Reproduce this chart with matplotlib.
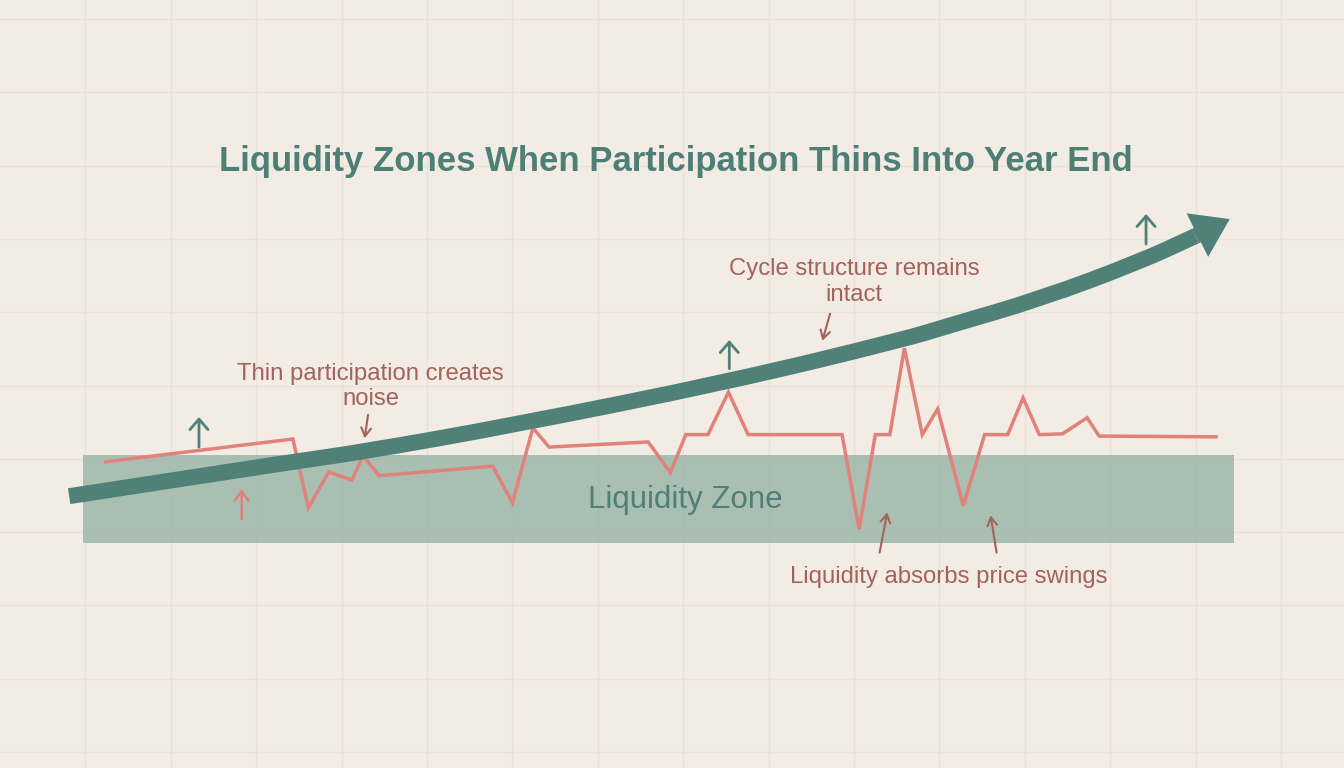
import matplotlib
matplotlib.use("Agg")
import matplotlib.pyplot as plt
from matplotlib.patches import Rectangle, FancyArrowPatch, ArrowStyle, PathPatch
from matplotlib.path import Path

plt.rcParams['font.family'] = ['Liberation Sans', 'DejaVu Sans']

# all values are in grid units: x counts columns from the left edge,
# y counts rows up from the lowest gridline

#%% price path (thin, noisy)
price_x = [1.24, 3.43, 3.61, 3.85, 4.12, 4.25, 4.44, 5.77, 6.00, 6.24,
           6.43, 7.59, 7.85, 8.03, 8.29, 8.53, 8.76, 9.86, 10.06, 10.25,
           10.42, 10.59, 10.80, 10.98, 11.28, 11.53, 11.80, 11.98, 12.17, 12.44,
           12.73, 12.87, 14.24]
price_y = [3.96, 4.27, 3.33, 3.82, 3.71, 4.04, 3.77, 3.90, 3.40, 4.42,
           4.16, 4.23, 3.81, 4.33, 4.33, 4.91, 4.33, 4.33, 3.04, 4.33,
           4.33, 5.51, 4.33, 4.68, 3.36, 4.33, 4.33, 4.83, 4.33, 4.34,
           4.56, 4.31, 4.30]

#%% cycle trend arrow (centre line + tip)
trend_x = [0.81, 3.43, 4.22, 5.97, 8.53, 10.59, 11.12, 12.18, 13.35, 14.00]
trend_y = [3.49, 3.96, 4.09, 4.45, 5.05, 5.63, 5.82, 6.18, 6.69, 7.04]
trend_tip = (14.40, 7.27)

#%% liquidity zone band
zone_x = (0.97, 14.45)
zone_y = (2.85, 4.05)

#%% small arrows (x0, y0, x1, y1)
up_teal = [(2.33, 4.16, 2.33, 4.57),
           (8.54, 5.23, 8.54, 5.62),
           (13.42, 6.93, 13.42, 7.34)]
up_salmon = [(2.83, 3.18, 2.83, 3.59)]
pointers = [(4.31, 4.60, 4.27, 4.28),
            (9.72, 5.98, 9.63, 5.61),
            (10.30, 2.72, 10.39, 3.27),
            (11.67, 2.72, 11.60, 3.23)]

title = "Liquidity Zones When Participation Thins Into Year End"
# (text, x centre, baseline of the last line)
notes = [("Thin participation creates\nnoise", 4.34, 4.73),
         ("Cycle structure remains\nintact", 10.00, 6.15),
         ("Liquidity absorbs price swings", 11.11, 2.31)]

bg = '#F2ECE4'
teal = '#4F8179'
salmon = '#E0827A'
brown = '#A3625A'

fig = plt.figure(figsize=(13.44, 7.68), dpi=100)
fig.patch.set_facecolor(bg)
ax = fig.add_axes([0, 0, 1, 1])
ax.set_facecolor(bg)
ax.set_xlim(0, 15.738)
ax.set_ylim(-0.218, 10.259)
ax.axis('off')

for gx in range(1, 16):
    ax.axvline(gx, color='#EAE2D8', lw=1.0, zorder=0)
for gy in range(0, 11):
    ax.axhline(gy, color='#EAE2D8', lw=1.0, zorder=0)

ax.add_patch(Rectangle((zone_x[0], zone_y[0]), zone_x[1] - zone_x[0], zone_y[1] - zone_y[0],
                       facecolor='#9CB7AA', alpha=0.85, edgecolor='none', zorder=1))
ax.text(8.02, 3.33, 'Liquidity Zone', ha='center', va='baseline', fontsize=22.5,
        color='#4F7F77', zorder=3)

ax.plot(price_x, price_y, color=salmon, lw=2.5, solid_joinstyle='miter', zorder=2)

for x0, y0, x1, y1 in up_teal:
    ax.add_patch(FancyArrowPatch((x0, y0), (x1, y1), arrowstyle='->,head_length=7.5,head_width=6.5',
                                 mutation_scale=1, lw=2.0, color=teal, shrinkA=0, shrinkB=0, zorder=4))
for x0, y0, x1, y1 in up_salmon:
    ax.add_patch(FancyArrowPatch((x0, y0), (x1, y1), arrowstyle='->,head_length=7,head_width=5',
                                 mutation_scale=1, lw=1.8, color='#D9857C', shrinkA=0, shrinkB=0, zorder=4))

# trend arrow: smooth quadratic spline through the read points
pts = list(zip(trend_x, trend_y))
verts = [pts[0], ((pts[0][0] + pts[1][0]) / 2, (pts[0][1] + pts[1][1]) / 2)]
codes = [Path.MOVETO, Path.LINETO]
for i in range(1, len(pts) - 1):
    nxt = ((pts[i][0] + pts[i + 1][0]) / 2, (pts[i][1] + pts[i + 1][1]) / 2)
    verts += [pts[i], nxt]
    codes += [Path.CURVE3, Path.CURVE3]
verts.append(pts[-1])
codes.append(Path.LINETO)
ax.add_patch(PathPatch(Path(verts, codes), facecolor='none', edgecolor=teal, lw=11.5,
                       capstyle='butt', joinstyle='round', zorder=5))
ax.add_patch(FancyArrowPatch((trend_x[-1], trend_y[-1]), trend_tip,
                             arrowstyle=ArrowStyle.Simple(head_length=26, head_width=35, tail_width=11.5),
                             mutation_scale=1, color=teal, lw=0, shrinkA=0, shrinkB=0, zorder=5))

for x0, y0, x1, y1 in pointers:
    ax.add_patch(FancyArrowPatch((x0, y0), (x1, y1), arrowstyle='->,head_length=6,head_width=3.5',
                                 mutation_scale=1, lw=1.5, color=brown, shrinkA=0, shrinkB=0, zorder=6))

for txt, tx, ty in notes:
    ax.text(tx, ty, txt, ha='center', va='baseline', fontsize=17.2, color=brown,
            linespacing=1.22, multialignment='center', zorder=6)

fig.text(0.503, 1 - 171 / 768, title, ha='center', va='baseline', fontsize=25,
         fontweight='bold', color='#4E7F77')

fig.savefig('out.png', dpi=100, facecolor=bg)
